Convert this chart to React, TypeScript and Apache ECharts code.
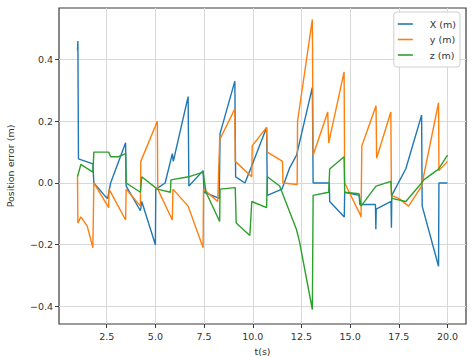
import React, { useEffect, useRef } from "react";
import * as echarts from "echarts";

const xTime = [1.0, 1.02, 1.05, 1.79, 1.84, 2.45, 2.55, 2.7, 3.47, 3.5, 4.23, 4.3, 5.0, 5.02, 5.5, 5.87, 5.92, 6.68, 6.72, 7.45, 7.5, 8.28, 8.32, 9.08, 9.12, 9.6, 9.85, 10.71, 10.75, 11.5, 11.9, 12.25, 13.06, 13.1, 13.93, 13.95, 14.7, 14.72, 15.46, 15.5, 16.3, 16.32, 16.34, 17.1, 17.12, 17.14, 17.86, 18.67, 18.7, 19.54, 19.56, 20.0];
const xErr = [0.43, 0.46, 0.078, 0.062, 0.0, -0.045, -0.05, 0.0, 0.13, -0.01, -0.09, -0.06, -0.2, -0.02, 0.0, 0.095, 0.07, 0.28, -0.01, 0.04, -0.03, -0.05, 0.16, 0.33, 0.02, 0.0, 0.04, 0.18, -0.04, -0.02, 0.05, 0.09, 0.31, 0.0, 0.0, -0.06, -0.11, -0.03, -0.04, -0.07, -0.07, -0.15, -0.085, -0.06, -0.145, -0.04, 0.046, 0.22, -0.075, -0.27, 0.0, 0.0];

const yTime = [1.0, 1.02, 1.17, 1.5, 1.79, 1.84, 2.6, 2.62, 3.47, 3.5, 4.23, 4.25, 5.1, 5.12, 5.87, 5.9, 6.68, 7.45, 7.47, 8.2, 8.3, 9.08, 9.1, 9.95, 9.97, 10.71, 10.75, 11.53, 11.55, 12.28, 12.3, 13.06, 13.1, 13.85, 13.9, 14.69, 14.72, 15.5, 15.56, 15.6, 16.33, 16.36, 17.09, 17.12, 17.5, 18.0, 18.67, 19.54, 19.56, 20.0];
const yErr = [0.02, -0.13, -0.11, -0.14, -0.21, 0.0, -0.08, -0.02, -0.12, -0.02, -0.075, 0.07, 0.2, -0.02, -0.12, -0.02, -0.075, -0.21, -0.02, -0.06, 0.14, 0.24, 0.07, 0.02, 0.12, 0.18, 0.1, 0.07, 0.0, -0.005, 0.2, 0.53, 0.09, 0.23, 0.13, 0.36, 0.0, -0.1, -0.11, 0.12, 0.25, 0.08, 0.23, -0.04, -0.05, -0.075, -0.01, 0.26, 0.04, 0.07];

const zTime = [1.0, 1.17, 1.79, 1.84, 2.6, 2.7, 3.1, 3.47, 3.5, 4.23, 4.3, 5.1, 5.77, 5.8, 6.7, 7.45, 7.6, 8.3, 8.32, 9.1, 9.15, 9.85, 9.95, 10.71, 10.75, 11.38, 12.24, 12.4, 13.06, 13.1, 13.9, 13.95, 14.69, 14.72, 15.46, 15.56, 16.33, 17.09, 17.14, 17.86, 18.67, 18.78, 19.54, 20.0];
const zErr = [0.02, 0.06, 0.035, 0.1, 0.1, 0.085, 0.085, 0.095, 0.0, -0.03, 0.02, -0.02, -0.03, 0.01, 0.02, 0.035, -0.03, -0.125, -0.02, -0.015, -0.13, -0.17, -0.06, -0.08, 0.02, -0.01, -0.15, -0.19, -0.41, -0.04, -0.03, 0.045, 0.085, -0.03, -0.035, -0.075, -0.01, 0.005, -0.05, -0.06, 0.0, 0.01, 0.045, 0.09];

const xTicks = [2.5, 5.0, 7.5, 10.0, 12.5, 15.0, 17.5, 20.0];
const yTicks = [-0.4, -0.2, 0.0, 0.2, 0.4];
const seriesNames = ["X (m)", "y (m)", "z (m)"];
const colors = ["#1f77b4", "#ff7f0e", "#2ca02c"];

const pair = (t: number[], v: number[]) => t.map((tt, i) => [tt, v[i]]);
const fmt = (v: number) => v.toFixed(1).replace("-", "\u2212");

export default function App() {
  const ref = useRef<HTMLDivElement>(null);
  useEffect(() => {
    document.body.style.margin = "0";
    const chart = echarts.init(ref.current!, null, { renderer: "svg" });
    const font = "DejaVu Sans";
    const seriesData = [pair(xTime, xErr), pair(yTime, yErr), pair(zTime, zErr)];
    chart.setOption({
      animation: false,
      backgroundColor: "#ffffff",
      textStyle: { fontFamily: font },
      grid: {
        left: 59,
        top: 8,
        right: 8,
        bottom: 33,
        outerBoundsMode: "none",
        containLabel: false,
        show: true,
        borderColor: "#3a3a3a",
        borderWidth: 1.2,
        backgroundColor: "transparent",
      },
      legend: {
        orient: "vertical",
        right: 14,
        top: 12,
        data: seriesNames,
        icon: "rect",
        itemWidth: 15,
        itemHeight: 1.6,
        itemGap: 3.5,
        padding: [6, 4, 6, 4],
        borderColor: "#cfcfcf",
        borderWidth: 1,
        borderRadius: 3,
        backgroundColor: "rgba(255,255,255,0.85)",
        textStyle: {
          fontFamily: font,
          fontSize: 9.5,
          color: "#333",
          lineHeight: 12,
          padding: [0, 0, 0, 12],
        },
      },
      xAxis: {
        type: "value",
        min: 0.05,
        max: 20.95,
        name: "t(s)",
        nameLocation: "middle",
        nameGap: 22,
        nameTextStyle: { fontFamily: font, fontSize: 9.5, color: "#333" },
        axisLine: { show: false, onZero: false },
        axisTick: { show: true, length: 4, customValues: xTicks, lineStyle: { color: "#3a3a3a" } },
        axisLabel: {
          customValues: xTicks,
          formatter: fmt,
          fontFamily: font,
          fontSize: 9.5,
          color: "#333",
          margin: 7,
        },
        splitLine: { show: true, lineStyle: { color: "#d8d8d8", width: 1 } },
      },
      yAxis: {
        type: "value",
        min: -0.457,
        max: 0.567,
        name: "Position error (m)",
        nameLocation: "middle",
        nameGap: 44,
        nameTextStyle: { fontFamily: font, fontSize: 9.5, color: "#333" },
        axisLine: { show: false, onZero: false },
        axisTick: { show: true, length: 4, customValues: yTicks, lineStyle: { color: "#3a3a3a" } },
        axisLabel: {
          customValues: yTicks,
          formatter: fmt,
          fontFamily: font,
          fontSize: 9.5,
          color: "#333",
          margin: 6,
        },
        splitLine: { show: true, lineStyle: { color: "#d8d8d8", width: 1 } },
      },
      series: seriesNames.map((name, i) => ({
        name,
        type: "line",
        data: seriesData[i],
        showSymbol: false,
        symbol: "none",
        color: colors[i],
        lineStyle: { color: colors[i], width: 1.4 },
        z: 3 + i,
      })),
    });
    return () => chart.dispose();
  }, []);
  return <div ref={ref} style={{ width: 474, height: 357 }} />;
}
